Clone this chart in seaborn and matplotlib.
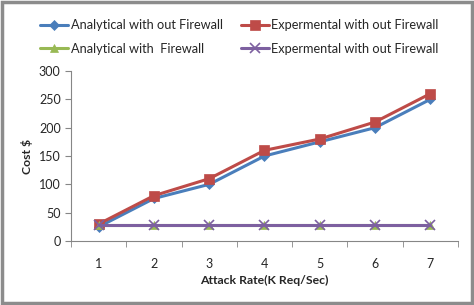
import numpy as np
import matplotlib.pyplot as plt
import pandas as pd
import seaborn as sb
from matplotlib.patches import Rectangle

rates = [1, 2, 3, 4, 5, 6, 7]
analytical_no_fw = [25, 75, 100, 150, 175, 200, 250]
experimental_no_fw = [30, 80, 110, 160, 180, 210, 260]
analytical_fw = [28, 28, 28, 28, 28, 28, 28]
experimental_fw = [28, 28, 28, 28, 28, 28, 28]

names = ['Analytical with out Firewall', 'Expermental with out Firewall',
         'Analytical with  Firewall', 'Expermental with out Firewall ']
series = [analytical_no_fw, experimental_no_fw, analytical_fw, experimental_fw]

frame = pd.concat([pd.DataFrame({'rate': rates, 'cost': vals, 'series': n})
                   for n, vals in zip(names, series)])

sb.set_style('white')
plt.rcParams['font.family'] = ['Lato', 'DejaVu Sans']

fig = plt.figure(figsize=(4.74, 3.05), dpi=100)
ax = fig.add_axes([0.150, 0.210, 0.816, 0.557])

colors = ['#4A7EBB', '#BE4B48', '#98B954', '#7D60A0']
markers = ['D', 's', '^', 'x']
sizes = [5, 7, 6, 7]
for n, c, m, s in zip(names, colors, markers, sizes):
    sb.lineplot(data=frame[frame.series == n], x='rate', y='cost', ax=ax,
                color=c, marker=m, markersize=s, linewidth=2.2,
                markeredgecolor=c, markeredgewidth=1.2 if m == 'x' else 0.5,
                label=n)

ax.set_xlim(0.5, 7.5)
ax.set_ylim(0, 300)
ax.set_yticks(np.arange(0, 301, 50))
ax.set_xticks(rates)
ax.set_xticks(np.arange(0.5, 7.6, 1), minor=True)
ax.tick_params(axis='x', which='major', length=0, labelsize=9, pad=12)
ax.tick_params(axis='x', which='minor', length=4, color='#868686', direction='out', bottom=True)
ax.tick_params(axis='y', length=4, color='#868686', direction='out', left=True, labelsize=9)
ax.set_xlabel('Attack Rate(K Req/Sec)', fontsize=8.8, fontweight='bold')
ax.set_ylabel('Cost $', fontsize=8.8, fontweight='bold')
for side in ['top', 'right']:
    ax.spines[side].set_visible(False)
for side in ['left', 'bottom']:
    ax.spines[side].set_color('#868686')
    ax.spines[side].set_linewidth(0.8)

handles, labels = ax.get_legend_handles_labels()
order = [0, 2, 1, 3]
ax.legend([handles[i] for i in order], [labels[i].strip() for i in order],
          ncol=2, frameon=False, fontsize=9.2, loc='upper center',
          bbox_to_anchor=(0.505, 0.975), bbox_transform=fig.transFigure,
          columnspacing=1.4, handlelength=2.2, handletextpad=0.2, labelspacing=0.9)

fig.patches.append(Rectangle((0.004, 0.006), 0.992, 0.988, transform=fig.transFigure,
                             fill=False, edgecolor='#8c8c8c', linewidth=2.5))

plt.savefig('out.png', dpi=100)
